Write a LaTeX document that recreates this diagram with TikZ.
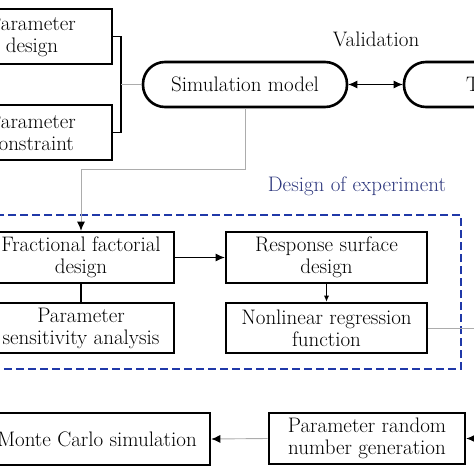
\documentclass[tikz,border=0pt]{standalone}
\usepackage{fontspec}
\usepackage{tikz}
\usetikzlibrary{arrows.meta}
\definecolor{doeblue}{RGB}{32,56,168}
\definecolor{doetext}{RGB}{45,55,125}
\tikzset{
  box/.style={draw, line width=2.6pt, align=center, inner sep=0pt, font=\fontsize{21}{22}\selectfont},
  simbox/.style={box, rounded corners=22pt},
  label/.style={font=\fontsize{21}{22}\selectfont},
  link/.style={line width=0.9pt},
  greylink/.style={draw=gray!65, line width=0.9pt},
  tip/.style={-{Latex[length=9pt,width=8pt,color=black]}},
  smalltip/.style={-{Latex[length=6pt,width=5pt]}},
  doebox/.style={draw=doeblue, line width=2.6pt, dash pattern=on 8pt off 4pt},
}

\begin{document}
\begin{tikzpicture}[x=1pt,y=-1pt]
    \useasboundingbox (0,0) rectangle (474,474);
    \clip (0,0) rectangle (474,474);

    \node[box, minimum width=160pt, minimum height=55pt] (pd) at (32,36.5) {Parameter\\design};
    \node[box, minimum width=160pt, minimum height=55pt] (pc) at (32,132.5) {Parameter\\constraint};
    \node[simbox, minimum width=204pt, minimum height=45pt] (sim) at (245,84.5) {Simulation model};
    \node[simbox, minimum width=160pt, minimum height=45pt] (test) at (484,84.5) {Test};
    \node[label] (val) at (376,39) {Validation};

    \coordinate (br) at (121,84.5);
    \draw[line width=1.6pt] (pd.east) -| (br) |- (pc.east);
    \draw[greylink] (br) -- (sim.west);
    \draw[link, {Latex[length=9pt,width=8pt]}-{Latex[length=9pt,width=8pt]}] (sim.east) -- (test.west);

    \node[label, text=doetext] (doe) at (357,186) {Design of experiment};
    \draw[doebox] (-10,215) rectangle (461,369);

    \node[box, minimum width=186pt, minimum height=51pt] (ff) at (81,257.5) {Fractional factorial\\design};
    \node[box, minimum width=186pt, minimum height=50pt] (psa) at (81,328) {Parameter\\sensitivity analysis};
    \node[box, minimum width=201pt, minimum height=51pt] (rs) at (326.5,257.5) {Response surface\\design};
    \node[box, minimum width=201pt, minimum height=50pt] (nl) at (326.5,328) {Nonlinear regression\\function};

    \draw[greylink, tip] (sim.south) -- ++(0,61) -| (ff.north);
    \draw[link, tip] (ff.east) -- (rs.west);
    \draw[line width=1.6pt] (ff.south) -- (psa.north);
    \draw[link, smalltip] (rs.south) -- (nl.north);

    \node[box, minimum width=226pt, minimum height=52pt] (mc) at (97,439) {Monte Carlo simulation};
    \node[box, minimum width=196pt, minimum height=51pt] (pr) at (367,438.5) {Parameter random\\number generation};

    \draw[greylink, tip] (nl.east) -- ++(60,0) |- (pr.east);
    \draw[greylink, tip] (pr.west) -- (mc.east);
\end{tikzpicture}
\end{document}
